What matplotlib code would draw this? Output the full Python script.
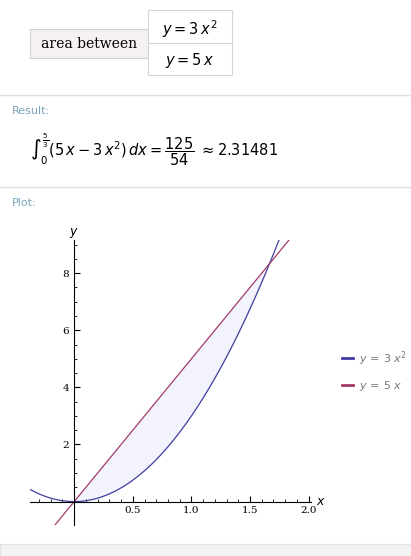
import numpy as np
import matplotlib
matplotlib.use("Agg")
import matplotlib.pyplot as plt
from matplotlib.patches import Rectangle

# curve data
x_para = np.linspace(-0.377, 1.747, 300)
y_para = 3 * x_para ** 2
x_line = np.array([-0.165, 1.83])
y_line = 5 * x_line
x_fill = np.linspace(0, 5 / 3, 200)
x_ticks = [0.5, 1.0, 1.5, 2.0]
y_ticks = [2, 4, 6, 8]

W, H = 411, 556
fig = plt.figure(figsize=(W / 100, H / 100), dpi=100)
fig.patch.set_facecolor("white")

def px(x, y):
    return x / W, 1 - y / H

def rect(x0, y0, x1, y1, fc, ec):
    fig.patches.append(Rectangle(px(x0, y1), (x1 - x0) / W, (y1 - y0) / H,
                                 transform=fig.transFigure, fc=fc, ec=ec, lw=0.8))

# input boxes
rect(30, 29, 148, 58, "#f5f0f4", "#d6d0d4")
rect(148, 10, 232, 43, "white", "#d6d6d6")
rect(148, 43, 232, 75, "white", "#d6d6d6")
fig.text(*px(89, 44), "area between", ha="center", va="center", family="DejaVu Serif", fontsize=10)
fig.text(*px(190, 29), r"$y = 3\,x^2$", ha="center", va="center", fontsize=10.5)
fig.text(*px(190, 61), r"$y = 5\,x$", ha="center", va="center", fontsize=10.5)

# separators
for yy in (95, 187):
    fig.add_artist(plt.Line2D([0, 1], [1 - yy / H] * 2, transform=fig.transFigure, color="#e0e0e0", lw=1))
rect(0, 544, 411, 556, "#f3f3f3", "#e3e3e3")

fig.text(*px(12, 111), "Result:", color="#7aa4bd", fontsize=8, va="center")
fig.text(*px(30, 150), r"$\int_0^{\frac{5}{3}}\left(5\,x - 3\,x^2\right)\,dx = \dfrac{125}{54}\ \approx 2.31481$",
         fontsize=10.5, va="center")
fig.text(*px(12, 203), "Plot:", color="#7aa4bd", fontsize=8, va="center")

# plot
ax = fig.add_axes([30 / W, (H - 525) / H, 281 / W, 285 / H])
ax.set_xlim(-0.377, 2.02)
ax.set_ylim(-0.82, 9.16)
ax.fill_between(x_fill, 3 * x_fill ** 2, 5 * x_fill, color="#f3f3fd", lw=0)
ax.plot(x_para, y_para, color="#3f3fa0", lw=0.9, label=r"$y\,=\,3\;x^{2}$")
ax.plot(x_line, y_line, color="#a03a6a", lw=0.9, label=r"$y\,=\,5\;x$")
for s in ("top", "right"):
    ax.spines[s].set_visible(False)
ax.spines["left"].set_position(("data", 0))
ax.spines["bottom"].set_position(("data", 0))
ax.set_xticks(x_ticks)
ax.set_xticklabels(["0.5", "1.0", "1.5", "2.0"])
ax.set_yticks(y_ticks)
ax.set_xticks(np.arange(-0.3, 2.01, 0.1), minor=True)
ax.set_yticks(np.arange(0.5, 9.1, 0.5), minor=True)
ax.tick_params(direction="in", length=4, labelsize=7.5)
ax.tick_params(which="minor", direction="in", length=2)
for lab in ax.get_xticklabels() + ax.get_yticklabels():
    lab.set_family("DejaVu Serif")
ax.text(2.06, 0, "$x$", va="center", fontsize=9)
ax.text(0, 9.35, "$y$", ha="center", fontsize=9)
leg = fig.legend(loc="center left", bbox_to_anchor=(332 / W, 1 - 371 / H), frameon=False,
                 fontsize=8, handlelength=1.0, labelspacing=1.0, handletextpad=0.5)
for t in leg.get_texts():
    t.set_color("#777777")
for l in leg.get_lines():
    l.set_linewidth(2)

fig.savefig("out.png", dpi=100)
